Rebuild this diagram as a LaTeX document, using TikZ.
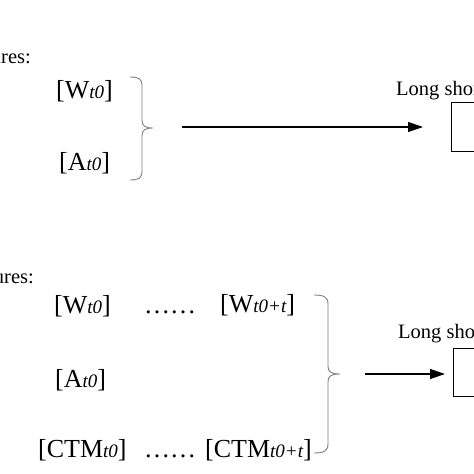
\documentclass[tikz,border=0pt]{standalone}
\usepackage{fontspec}
\setmainfont{Liberation Serif}
\usetikzlibrary{arrows.meta}
\newcommand\subtxt[1]{{\fontsize{19}{20}\selectfont\itshape #1}}
\begin{document}
\begin{tikzpicture}[x=1pt,y=-1pt,
  item/.style={anchor=base west,inner sep=0pt,font=\fontsize{26}{30}\selectfont},
  lbl/.style={inner sep=0pt,font=\fontsize{20.5}{24}\selectfont},
  bracepath/.style={draw=black!50,line width=0.9pt},
  arr/.style={line width=1.2pt,-{Triangle[length=15pt,width=10pt]}},
  boxnode/.style={draw,line width=1.2pt,anchor=north west,inner sep=0pt,minimum width=80pt}]
\useasboundingbox (0,0) rectangle (474,474);
\clip (0,0) rectangle (474,474);
% top group
\node[lbl,anchor=base east] (f1) at (31,63) {Features:};
\node[item] (w1) at (56,98) {[W\subtxt{t0}]};
\node[item] (a1) at (59,170) {[A\subtxt{t0}]};
\draw[bracepath] (130,77) .. controls (139,77) and (142,79) .. (142,86) -- (142,120)
  .. controls (142,126) and (145,128) .. (153,128)
  .. controls (145,128) and (142,130) .. (142,136) -- (142,171)
  .. controls (142,178) and (139,180) .. (130,180);
\coordinate (s1) at (182,127);
\node[boxnode,minimum height=49pt] (b1) at (451,102) {};
\node[lbl,anchor=base west] (l1) at (396,95) {Long short-term memory};
\draw[arr] (s1) -- ([xshift=-28pt]b1.west |- s1);
% bottom group
\node[lbl,anchor=base east] (f2) at (34,283) {Features:};
\node[item] (w2) at (54,313) {[W\subtxt{t0}]};
\node[item] (d1) at (144,313) {\char"2026\char"2026};
\node[item] (w3) at (220,312) {[W\subtxt{t0+t}]};
\node[item] (a2) at (55,387) {[A\subtxt{t0}]};
\node[item] (c1) at (38,457) {[CTM\subtxt{t0}]};
\node[item] (d2) at (144,457) {\char"2026\char"2026};
\node[item] (c2) at (205,457) {[CTM\subtxt{t0+t}]};
\draw[bracepath] (314,295) .. controls (324,295) and (328,297) .. (328,304) -- (328,366)
  .. controls (328,372) and (331,374) .. (340,374)
  .. controls (331,374) and (328,376) .. (328,382) -- (328,444)
  .. controls (328,451) and (324,453) .. (314,453);
\coordinate (s2) at (365,374);
\node[boxnode,minimum height=48pt] (b2) at (453,348) {};
\node[lbl,anchor=base west] (l2) at (398,338) {Long short-term memory};
\draw[arr] (s2) -- ([xshift=-8pt]b2.west |- s2);
\end{tikzpicture}
\end{document}
